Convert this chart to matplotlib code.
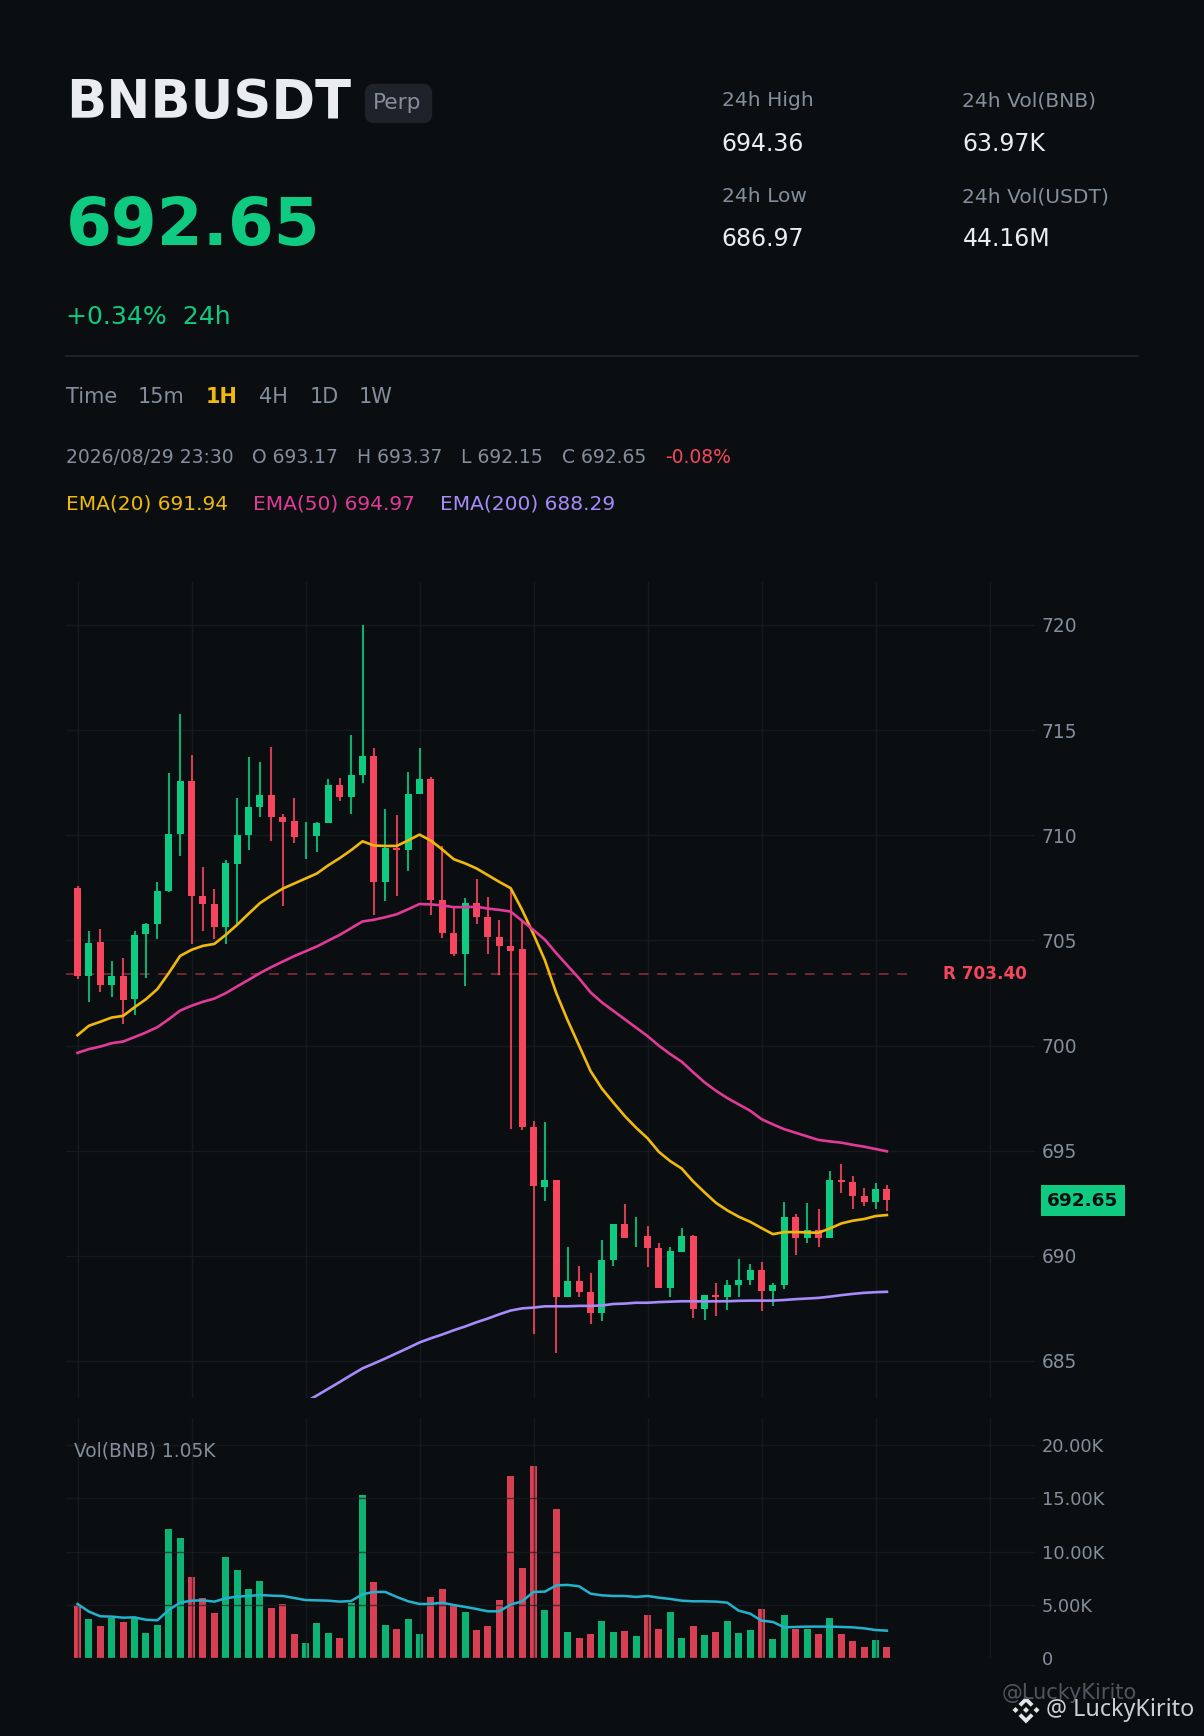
import matplotlib
matplotlib.use("Agg")
import matplotlib.pyplot as plt
from matplotlib.patches import FancyBboxPatch, Polygon, Rectangle
from matplotlib.ticker import FuncFormatter

BG = "#0b0e11"
GREEN = "#0ecb81"
RED = "#f6465d"
GOLD = "#f0b90b"
PINK = "#e23a98"
PURPLE = "#a78bfa"
CYAN = "#22b3cf"
GREY = "#848e9c"
GRID = "#161a20"

FIG_W, FIG_H = 1204, 1736

opens = [707.50, 703.31, 704.93, 702.88, 703.31, 702.22, 705.31, 705.78, 707.35, 710.06,
         712.58, 707.12, 706.74, 705.64, 708.64, 710.02, 711.35, 711.92, 710.87, 710.68,
         709.95, 709.97, 710.59, 712.39, 711.82, 712.87, 713.77, 707.78, 709.40, 709.30,
         711.97, 712.68, 706.93, 705.36, 704.37, 706.80, 706.13, 705.17, 704.75, 704.57,
         696.11, 693.25, 693.59, 688.06, 688.82, 688.30, 687.30, 689.82, 691.49, 691.10,
         690.92, 690.35, 688.49, 690.19, 690.92, 687.49, 688.16, 688.06, 688.63, 688.87,
         689.35, 688.35, 688.63, 691.87, 690.87, 691.25, 690.83, 693.59, 693.49, 692.83,
         692.54, 693.17]
closes = [703.31, 704.88, 702.88, 703.31, 702.17, 705.26, 705.78, 707.35, 710.06, 712.58,
          707.12, 706.74, 705.64, 708.68, 710.02, 711.35, 711.92, 710.87, 710.63, 709.92,
          709.98, 710.59, 712.39, 711.82, 712.87, 713.77, 707.78, 709.40, 709.30, 711.97,
          712.68, 706.93, 705.36, 704.36, 706.80, 706.13, 705.17, 704.75, 704.49, 696.11,
          693.31, 693.59, 688.06, 688.82, 688.26, 687.30, 689.82, 691.49, 690.87, 691.10,
          690.35, 688.49, 690.21, 690.92, 687.49, 688.16, 688.06, 688.63, 688.87, 689.35,
          688.35, 688.63, 691.87, 690.87, 691.25, 690.83, 693.59, 693.49, 692.83, 692.54,
          693.16, 692.65]
highs = [707.59, 705.45, 705.55, 704.03, 704.17, 705.45, 705.83, 707.78, 712.96, 715.77,
         713.82, 708.49, 707.45, 708.83, 711.78, 713.72, 713.49, 714.20, 711.01, 711.78,
         710.63, 710.63, 712.68, 712.73, 714.77, 720.00, 714.15, 711.25, 710.97, 713.01,
         714.15, 712.77, 709.49, 706.55, 707.00, 707.94, 707.04, 705.99, 707.44, 705.99,
         696.43, 696.35, 693.59, 690.41, 689.54, 689.16, 690.73, 691.49, 692.45, 691.83,
         691.40, 690.63, 690.40, 691.30, 690.97, 688.16, 688.73, 688.87, 689.83, 689.59,
         689.73, 688.73, 692.54, 691.97, 692.49, 692.21, 694.02, 694.35, 693.78, 693.21,
         693.44, 693.37]
lows = [703.17, 702.08, 702.55, 702.31, 701.03, 701.46, 703.22, 705.07, 707.31, 709.02,
        704.83, 705.45, 705.07, 704.83, 705.78, 709.30, 710.87, 709.73, 706.64, 709.64,
        708.87, 709.21, 710.59, 711.63, 711.01, 712.49, 706.21, 706.88, 707.12, 708.30,
        711.97, 706.21, 705.12, 704.26, 702.81, 705.79, 704.37, 703.35, 696.01, 695.99,
        686.30, 692.59, 685.40, 688.02, 688.02, 686.74, 686.88, 689.54, 690.87, 690.41,
        689.49, 688.49, 688.02, 690.16, 687.06, 686.97, 687.16, 687.44, 688.02, 688.59,
        687.40, 687.63, 688.40, 690.06, 690.63, 690.40, 690.83, 692.97, 692.25, 692.35,
        692.21, 692.15]

ema20 = [700.49, 700.94, 701.13, 701.33, 701.41, 701.82, 702.20, 702.68, 703.44, 704.26,
         704.55, 704.74, 704.83, 705.26, 705.74, 706.26, 706.77, 707.13, 707.46, 707.70,
         707.94, 708.18, 708.57, 708.91, 709.29, 709.71, 709.51, 709.49, 709.49, 709.75,
         710.03, 709.74, 709.32, 708.86, 708.66, 708.42, 708.10, 707.78, 707.48, 706.45,
         705.29, 704.05, 702.49, 701.19, 699.99, 698.79, 697.95, 697.29, 696.65, 696.09,
         695.59, 694.94, 694.50, 694.15, 693.54, 693.02, 692.52, 692.16, 691.86, 691.62,
         691.32, 691.03, 691.13, 691.13, 691.11, 691.10, 691.30, 691.54, 691.67, 691.75,
         691.89, 691.94]
ema50 = [699.65, 699.83, 699.95, 700.11, 700.19, 700.40, 700.62, 700.87, 701.25, 701.66,
         701.89, 702.08, 702.23, 702.49, 702.81, 703.12, 703.44, 703.73, 703.99, 704.25,
         704.48, 704.71, 704.99, 705.26, 705.58, 705.90, 705.98, 706.10, 706.24, 706.48,
         706.73, 706.71, 706.66, 706.58, 706.58, 706.60, 706.51, 706.45, 706.37, 705.93,
         705.49, 705.03, 704.39, 703.79, 703.19, 702.53, 702.05, 701.65, 701.25, 700.85,
         700.45, 699.99, 699.59, 699.23, 698.73, 698.25, 697.85, 697.50, 697.20, 696.90,
         696.50, 696.25, 696.02, 695.85, 695.68, 695.51, 695.44, 695.38, 695.28, 695.19,
         695.08, 694.97]
# ema200 runs below the visible price range before this candle
ema200_start = 20
ema200 = [683.05, 683.36, 683.68, 684.00, 684.33, 684.65, 684.88, 685.12, 685.37, 685.62,
          685.88, 686.08, 686.26, 686.46, 686.64, 686.84, 687.02, 687.22, 687.40, 687.50,
          687.54, 687.60, 687.60, 687.60, 687.62, 687.62, 687.64, 687.71, 687.73, 687.77,
          687.77, 687.80, 687.82, 687.84, 687.84, 687.83, 687.84, 687.84, 687.86, 687.87,
          687.87, 687.87, 687.90, 687.94, 687.97, 688.00, 688.06, 688.13, 688.19, 688.24,
          688.27, 688.29]

# volume in thousands of BNB
volumes = [4.95, 3.67, 3.01, 3.76, 3.39, 3.76, 2.35, 3.10, 12.13, 11.29,
           7.62, 5.64, 4.23, 9.50, 8.28, 6.49, 7.24, 4.70, 5.08, 2.26,
           1.41, 3.29, 2.35, 1.88, 5.17, 15.33, 7.15, 3.10, 2.73, 3.67,
           2.26, 5.74, 6.49, 4.98, 4.33, 2.63, 3.01, 5.45, 17.12, 8.46,
           18.06, 4.51, 14.01, 2.45, 1.88, 2.26, 3.48, 2.45, 2.54, 2.07,
           4.04, 2.73, 4.33, 1.88, 3.01, 2.16, 2.45, 3.48, 2.35, 2.63,
           4.61, 1.79, 4.04, 2.73, 2.73, 2.26, 3.76, 2.26, 1.60, 1.03,
           1.69, 1.05]
vol_ma = [5.08, 4.36, 3.92, 3.89, 3.79, 3.82, 3.60, 3.54, 4.51, 5.20,
          5.39, 5.42, 5.30, 5.61, 5.77, 5.83, 5.92, 5.86, 5.83, 5.64,
          5.45, 5.42, 5.39, 5.30, 5.36, 5.99, 6.21, 6.21, 5.74, 5.33,
          5.08, 5.08, 5.20, 4.98, 4.80, 4.61, 4.39, 4.39, 5.02, 5.33,
          6.21, 6.24, 6.83, 6.87, 6.74, 6.05, 5.89, 5.83, 5.83, 5.74,
          5.83, 5.67, 5.55, 5.39, 5.33, 5.33, 5.30, 5.20, 4.45, 4.17,
          3.51, 3.39, 2.88, 2.92, 2.95, 2.95, 2.95, 2.92, 2.88, 2.79,
          2.63, 2.57]

price_ticks = [685, 690, 695, 700, 705, 710, 715, 720]
vol_ticks = [0, 5, 10, 15, 20]
time_ticks = [0, 10, 20, 30, 40, 50, 60, 70, 80]
resistance = 703.40
last_price = 692.65


def px_axes(fig, left, top, right, bottom):
    # axes rectangle given in image pixels
    return fig.add_axes([left / FIG_W, 1 - bottom / FIG_H, (right - left) / FIG_W, (bottom - top) / FIG_H])


def style_panel(ax, yticks):
    ax.set_facecolor("none")
    for side in ax.spines:
        ax.spines[side].set_visible(False)
    ax.set_xlim(-1.01, 83.99)
    # the grid sits a hair right of the candle centres in the reference
    ax.set_xticks([t + 0.07 for t in time_ticks])
    ax.set_yticks(yticks)
    ax.yaxis.tick_right()
    ax.tick_params(axis="x", length=0, labelbottom=False)
    ax.tick_params(axis="y", length=0, pad=5, labelsize=13.4, labelcolor=GREY)


def vol_label(value, pos):
    if value == 0:
        return "0"
    return "%.2fK" % value


def draw_header(ov):
    ov.text(66, 118, "BNBUSDT", color="#eaecef", fontsize=37.9, fontweight="bold", va="baseline")
    ov.add_patch(FancyBboxPatch((369, 88), 59, 31, boxstyle="round,pad=0,rounding_size=5",
                                mutation_aspect=1, fc="#1e2329", ec="#1e2329", lw=6))
    ov.text(397.5, 103, "Perp", color=GREY, fontsize=15.6, ha="center", va="center")
    ov.text(66, 245, "692.65", color=GREEN, fontsize=47.5, fontweight="bold", va="baseline")
    ov.text(66, 317, "+0.34%  24h", color=GREEN, fontsize=18.1, va="center")
    ov.plot([66, 1138], [356, 356], color="#1e2329", lw=1.4)

    for x, label, value, y_label, y_value in [
        (721.5, "24h High", "694.36", 101, 144),
        (962.5, "24h Vol(BNB)", "63.97K", 101, 144),
        (721.5, "24h Low", "686.97", 197, 239),
        (962.5, "24h Vol(USDT)", "44.16M", 197, 239),
    ]:
        ov.text(x, y_label, label, color=GREY, fontsize=14.6, va="center")
        ov.text(x, y_value, value, color="#eaecef", fontsize=17, va="center")

    for x, label in [(66, "Time"), (138, "15m"), (259, "4H"), (310, "1D"), (359, "1W")]:
        ov.text(x, 397, label, color=GREY, fontsize=15, va="center")
    ov.text(206, 397, "1H", color=GOLD, fontsize=15, fontweight="bold", va="center")

    for x, label, color in [
        (66, "2026/08/29 23:30", GREY),
        (252, "O 693.17", GREY),
        (357, "H 693.37", GREY),
        (461, "L 692.15", GREY),
        (562, "C 692.65", GREY),
        (665, "-0.08%", RED),
    ]:
        ov.text(x, 457.5, label, color=color, fontsize=13.5, va="center")

    for x, label, color in [
        (66, "EMA(20) 691.94", GOLD),
        (253, "EMA(50) 694.97", PINK),
        (440, "EMA(200) 688.29", PURPLE),
    ]:
        ov.text(x, 504, label, color=color, fontsize=14.5, va="center")


def draw_logo(ov, cx, cy, color):
    # Top and bottom chevrons with three small diamonds between them
    for sign in (-1, 1):
        pts = [(0, 13.5), (7.5, 6), (4.7, 3.3), (0, 8), (-4.7, 3.3), (-7.5, 6)]
        ov.add_patch(Polygon([(cx + px, cy + sign * py) for px, py in pts], fc=color, ec="none"))
    for dx in (-10.5, 0, 10.5):
        r = 3
        ov.add_patch(Polygon([(cx + dx, cy - r), (cx + dx + r, cy), (cx + dx, cy + r), (cx + dx - r, cy)],
                             fc=color, ec="none"))


def draw_watermark(ov):
    ov.text(1002, 1693, "@LuckyKirito", color="#50565e", fontsize=15, va="center")
    ov.text(1046, 1710, "@ LuckyKirito", color="#cdcfd2", fontsize=16.8, family="Noto Sans", va="center")
    draw_logo(ov, 1026, 1710, "#e4e5e6")


def main():
    plt.rcParams["font.family"] = "DejaVu Sans"
    fig = plt.figure(figsize=(FIG_W / 100, FIG_H / 100), dpi=100, facecolor=BG)

    # price panel
    ax = px_axes(fig, 66, 582, 1035, 1398)
    style_panel(ax, price_ticks)
    ax.set_ylim(683.24, 722.04)
    ax.grid(True, color=GRID, linewidth=1.0)
    ax.set_axisbelow(True)

    xs = list(range(len(opens)))
    colors = [GREEN if c >= o else RED for o, c in zip(opens, closes)]
    ax.vlines(xs, lows, highs, colors=colors, linewidth=1.5, alpha=0.85, zorder=2)
    ax.bar(xs, [abs(c - o) for o, c in zip(opens, closes)], bottom=[min(o, c) for o, c in zip(opens, closes)],
           width=0.6, color=colors, linewidth=0, zorder=3)
    ax.plot(xs, ema20, color=GOLD, lw=1.9, zorder=4)
    ax.plot(xs, ema50, color=PINK, lw=1.9, zorder=4)
    ax.plot(range(ema200_start, len(opens)), ema200, color=PURPLE, lw=1.9, zorder=4)
    ax.plot([-1.01, 72.8], [resistance, resistance], color=RED, lw=1.4, alpha=0.45,
            dashes=(5, 4.5), zorder=1.5)

    # volume panel, the grid lies faintly over the bars here
    ax_vol = px_axes(fig, 66, 1418, 1035, 1658)
    style_panel(ax_vol, vol_ticks)
    ax_vol.set_ylim(0, 22.56)
    ax_vol.yaxis.set_major_formatter(FuncFormatter(vol_label))
    ax_vol.tick_params(axis="y", labelsize=12.8)
    ax_vol.grid(True, color="#1a1f25", linewidth=1.0, alpha=0.7)
    ax_vol.set_axisbelow(False)
    ax_vol.bar(xs, volumes, width=0.6, color=colors, alpha=0.88, linewidth=0, zorder=1)
    ax_vol.plot(xs, vol_ma, color=CYAN, lw=1.8, zorder=4)

    # overlay in image pixels for the text blocks
    ov = fig.add_axes([0, 0, 1, 1])
    ov.set_xlim(0, FIG_W)
    ov.set_ylim(FIG_H, 0)
    ov.axis("off")
    draw_header(ov)

    ov.text(1027, 974, "R %.2f" % resistance, color=RED, fontsize=12.2, fontweight="bold", ha="right", va="center")
    ov.add_patch(Rectangle((1041, 1185), 84, 31, fc=GREEN, ec="none"))
    ov.text(1083, 1200.5, "%.2f" % last_price, color=BG, fontsize=13.3, fontweight="bold", ha="center", va="center")
    ov.text(74, 1451, "Vol(BNB) 1.05K", color=GREY, fontsize=13.4, va="center")
    draw_watermark(ov)

    fig.savefig("out.png", dpi=100, facecolor=BG)
    plt.close(fig)


if __name__ == "__main__":
    main()
